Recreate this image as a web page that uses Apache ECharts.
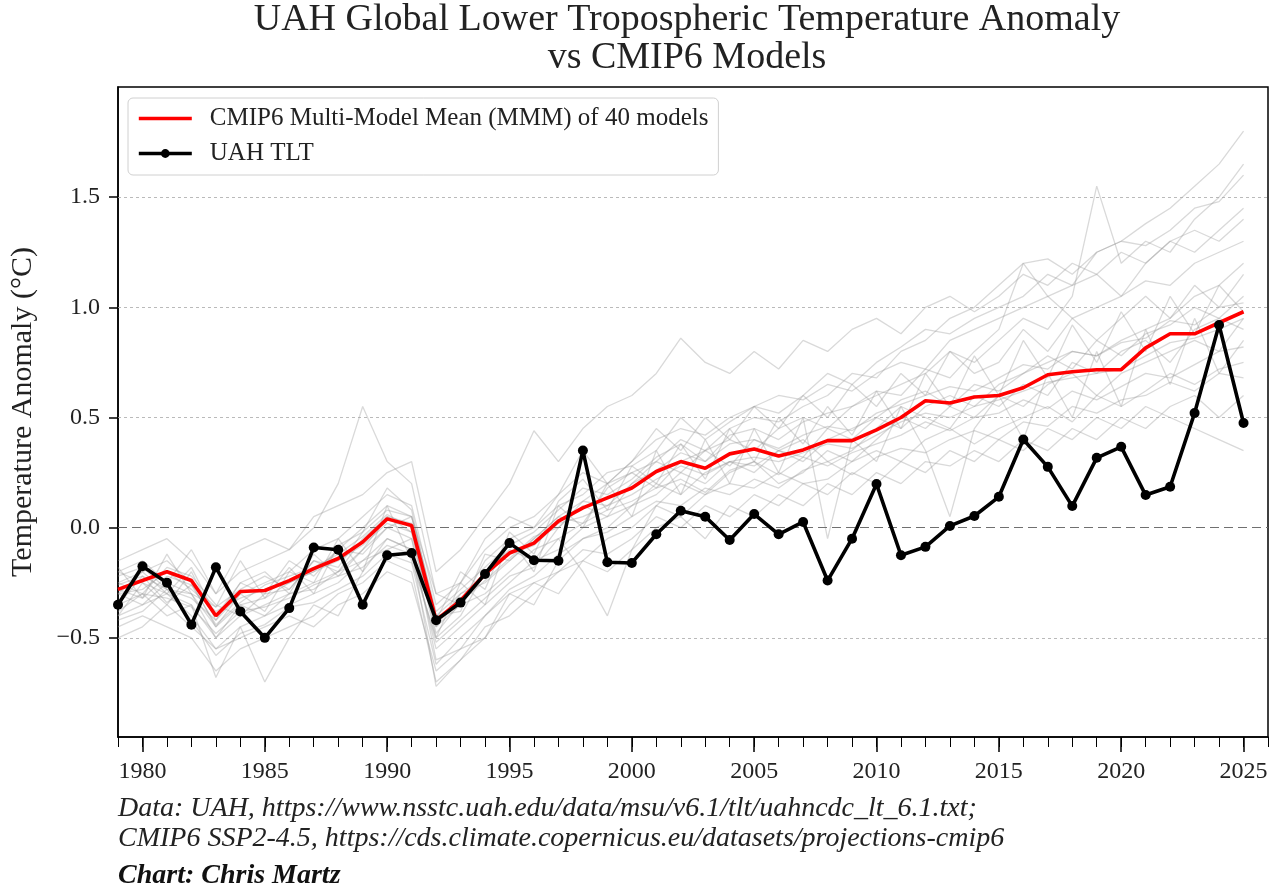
<!DOCTYPE html>
<html><head><meta charset="utf-8">
<script src="https://cdn.jsdelivr.net/npm/echarts@6/dist/echarts.min.js"></script>
<style>html,body{margin:0;padding:0;background:#fff}#c{width:1278px;height:895px}</style>
</head><body><div id="c"></div>
<script>
const years = [1979,1980,1981,1982,1983,1984,1985,1986,1987,1988,1989,1990,1991,1992,1993,1994,1995,1996,1997,1998,1999,2000,2001,2002,2003,2004,2005,2006,2007,2008,2009,2010,2011,2012,2013,2014,2015,2016,2017,2018,2019,2020,2021,2022,2023,2024,2025];
const mmm = [-0.28,-0.24,-0.20,-0.24,-0.40,-0.29, -0.285,-0.24,-0.186,-0.14,-0.065, 0.04,0.01,-0.42,-0.33,-0.21, -0.115,-0.07,0.03,0.09,0.135, 0.18,0.255,0.30,0.27,0.335, 0.357,0.325,0.353,0.395,0.395, 0.444,0.50,0.576,0.566,0.593, 0.60,0.635,0.694,0.708,0.717, 0.717,0.816,0.88,0.88,0.93,0.98];
const uah = [-0.35,-0.175,-0.25,-0.44,-0.18,-0.38, -0.50,-0.365,-0.09,-0.10,-0.35, -0.125,-0.115,-0.42,-0.34,-0.21, -0.07,-0.148,-0.15,0.35,-0.157, -0.16,-0.03,0.077,0.05,-0.056, 0.062,-0.03,0.026,-0.24,-0.05, 0.198,-0.125,-0.087,0.008,0.053, 0.14,0.40,0.276,0.098,0.317, 0.367,0.148,0.186,0.52,0.92,0.475];
const model01 = [-0.30,-0.20,-0.15,-0.25,-0.45,-0.30, -0.25,-0.20,-0.10,-0.05,0.05, 0.15,0.10,-0.35,-0.25,-0.10, 0.00,0.05,0.15,0.25,0.20, 0.30,0.40,0.45,0.42,0.50, 0.55,0.52,0.60,0.70,0.65, 0.75,0.82,0.90,0.88,0.95, 1.00,1.05,1.15,1.10,1.25, 1.30,1.38,1.45,1.55,1.65,1.80];
const model02 = [-0.25,-0.30,-0.18,-0.22,-0.35,-0.40, -0.30,-0.28,-0.15,-0.20,-0.05, 0.05,-0.02,-0.50,-0.40,-0.20, -0.10,-0.15,0.00,0.10,0.05, 0.20,0.30,0.25,0.35,0.40, 0.35,0.45,0.50,0.45,0.55, 0.60,0.65,0.70,0.80,0.75, 0.85,0.95,0.90,1.05,1.55, 1.20,1.30,1.25,1.40,1.50,1.65];
const model03 = [-0.35,-0.22,-0.28,-0.30,-0.50,-0.35, -0.32,-0.25,-0.20,-0.10,-0.12, 0.00,0.05,-0.40,-0.30,-0.25, -0.15,-0.05,0.05,0.12,0.20, 0.25,0.30,0.40,0.35,0.45, 0.50,0.48,0.55,0.60,0.70, 0.68,0.80,0.85,0.95,1.00, 1.10,1.20,1.22,1.15,1.25, 1.30,1.28,1.35,1.45,1.48,1.60];
const model04 = [-0.20,-0.25,-0.30,-0.18,-0.40,-0.25, -0.30,-0.15,-0.22,-0.10,0.00, 0.10,0.05,-0.30,-0.35,-0.15, -0.05,0.00,0.10,0.15,0.25, 0.28,0.35,0.50,0.40,0.48, 0.55,0.60,0.58,0.65,0.62, 0.70,0.75,0.72,0.85,0.90, 0.95,1.00,1.05,1.10,1.15, 1.05,1.20,1.30,1.25,1.35,1.45];
const model05 = [-0.40,-0.35,-0.30,-0.40,-0.55,-0.45, -0.40,-0.35,-0.30,-0.25,-0.15, -0.05,-0.10,-0.55,-0.45,-0.35, -0.25,-0.15,-0.10,0.00,0.05, 0.10,0.20,0.15,0.25,0.30, 0.28,0.35,0.30,0.40,0.45, 0.50,0.45,0.55,0.60,0.55, 0.65,0.70,0.75,0.80,0.78, 0.85,0.90,0.95,1.05,1.10,1.20];
const model06 = [-0.45,-0.40,-0.45,-0.50,-0.65,-0.55, -0.50,-0.45,-0.40,-0.30,-0.25, -0.15,-0.20,-0.70,-0.60,-0.45, -0.40,-0.30,-0.20,-0.15,-0.05, 0.00,0.10,0.05,0.15,0.20, 0.18,0.25,0.20,0.22,0.30, 0.35,0.30,0.40,0.45,0.38, 0.45,0.50,0.55,0.48,0.60, 0.55,0.62,0.70,0.65,0.72,0.75];
const model07 = [-0.30,-0.35,-0.25,-0.30,-0.45,-0.35, -0.40,-0.30,-0.25,-0.20,-0.15, -0.10,-0.05,-0.60,-0.55,-0.40, -0.30,-0.25,-0.20,-0.10,-0.12, -0.05,0.05,0.00,0.10,0.05, 0.15,0.10,0.20,0.15,0.25, 0.20,0.30,0.25,0.35,0.30, 0.40,0.35,0.45,0.40,0.50, 0.45,0.55,0.50,0.45,0.40,0.35];
const model08 = [-0.20,-0.15,-0.25,-0.10,-0.30,-0.20, -0.15,-0.10,0.00,0.20,0.55, 0.30,0.20,-0.30,-0.25,-0.05, 0.05,0.00,0.15,0.35,0.20, 0.30,0.45,0.35,0.50,0.40, 0.55,0.45,0.60,0.50,0.65, 0.55,0.70,0.60,0.80,0.70, 0.75,0.90,0.80,0.95,0.85, 0.95,1.05,0.95,1.10,1.00,1.15];
const model09 = [-0.35,-0.30,-0.40,-0.35,-0.68,-0.45, -0.70,-0.50,-0.35,-0.40,-0.20, -0.05,-0.10,-0.72,-0.60,-0.50, -0.30,-0.35,-0.15,-0.05,0.00, 0.10,0.15,0.25,0.20,0.30, 0.25,0.35,0.40,0.30,0.35, 0.45,0.55,0.50,0.45,0.60, 0.55,0.65,0.60,0.75,0.70, 0.80,0.85,0.75,0.90,0.95,0.90];
const model10 = [-0.25,-0.20,-0.30,-0.35,-0.50,-0.40, -0.35,-0.30,-0.28,-0.20,-0.10, 0.00,-0.05,-0.45,-0.35,-0.30, -0.20,-0.10,-0.05,-0.20,-0.40, -0.10,0.10,0.20,0.15,0.25, 0.30,0.20,0.25,0.35,0.30, 0.40,0.50,0.45,0.55,0.50, 0.60,0.55,0.65,0.70,0.60, 0.70,0.75,0.80,0.85,0.80,0.95];
const model11 = [-0.15,-0.10,-0.05,-0.15,-0.30,-0.10, -0.05,-0.10,0.05,0.10,0.15, 0.25,0.30,-0.20,-0.10,0.05, 0.20,0.44,0.30,0.45,0.55, 0.60,0.70,0.86,0.75,0.70, 0.80,0.72,0.85,0.80,0.90, 0.95,0.88,1.00,1.05,0.98, 1.05,1.15,1.10,1.20,1.15, 1.25,1.20,1.30,1.35,1.30,1.40];
const model12 = [-0.30,-0.28,-0.20,-0.28,-0.38,-0.32, -0.28,-0.25,-0.20,-0.15,-0.08, 0.02,-0.02,-0.45,-0.30,-0.22, -0.12,-0.08,0.02,0.05,0.10, 0.15,0.22,0.28,0.24,0.30, 0.32,0.30,0.34,0.38,0.36, 0.42,0.48,0.52,0.50,0.55, 0.58,0.62,0.66,0.68,0.70, 0.72,0.78,0.84,0.86,0.90,0.95];
const model13 = [-0.40,-0.25,-0.35,-0.20,-0.42,-0.30, -0.38,-0.20,-0.25,-0.05,-0.20, 0.10,-0.15,-0.50,-0.25,-0.35, -0.05,-0.20,0.10,0.00,0.20, 0.05,0.35,0.15,0.40,0.20, 0.45,0.25,0.50,-0.05,0.40, 0.30,0.55,0.35,0.05,0.45, 0.60,0.40,0.70,0.50,0.80, 0.55,0.90,0.65,0.95,0.70,0.85];
const model14 = [-0.50,-0.45,-0.35,-0.45,-0.55,-0.50, -0.45,-0.40,-0.45,-0.35,-0.30, -0.20,-0.25,-0.65,-0.55,-0.50, -0.35,-0.25,-0.30,-0.15,-0.20, -0.10,0.00,0.05,-0.05,0.10, 0.05,0.15,0.10,0.20,0.15, 0.25,0.20,0.30,0.28,0.35, 0.30,0.40,0.35,0.45,0.40, 0.50,0.45,0.55,0.60,0.50,0.60];
const model15 = [-0.28,-0.32,-0.22,-0.26,-0.36,-0.28, -0.22,-0.28,-0.15,-0.18,-0.02, 0.08,0.05,-0.38,-0.28,-0.18, -0.08,-0.02,0.08,0.18,0.15, 0.22,0.32,0.38,0.30,0.42, 0.45,0.40,0.48,0.52,0.55, 0.62,0.60,0.72,0.68,0.80, 0.90,1.20,1.05,0.95,1.00, 1.05,1.12,1.10,1.20,1.25,1.30];
const model16 = [-0.22,-0.18,-0.28,-0.32,-0.42,-0.25, -0.20,-0.30,-0.12,-0.22,-0.10, 0.05,0.02,-0.40,-0.38,-0.12, -0.15,-0.05,0.05,0.02,0.18, 0.25,0.18,0.30,0.35,0.28, 0.40,0.35,0.32,0.45,0.40, 0.50,0.58,0.62,0.55,0.65, 0.62,0.70,0.78,0.72,0.85, 0.78,0.88,0.92,1.00,0.95,1.05];
const model17 = [-0.38,-0.30,-0.32,-0.36,-0.48,-0.38, -0.36,-0.32,-0.26,-0.22,-0.18, -0.08,-0.12,-0.52,-0.42,-0.32, -0.22,-0.18,-0.05,0.02,0.08, 0.12,0.18,0.22,0.16,0.26, 0.30,0.24,0.32,0.28,0.34, 0.38,0.42,0.48,0.44,0.50, 0.52,0.58,0.54,0.62,0.58, 0.64,0.70,0.68,0.74,0.80,0.82];
const model18 = [-0.18,-0.32,-0.12,-0.30,-0.36,-0.15, -0.32,-0.18,-0.30,-0.08,-0.02, 0.18,0.08,-0.42,-0.20,-0.28, -0.02,-0.12,0.12,0.22,0.08, 0.28,0.20,0.38,0.22,0.45, 0.30,0.50,0.38,0.55,0.42, 0.62,0.45,0.70,0.55,0.78, 0.60,0.85,0.68,0.92,0.75, 0.98,0.80,1.05,0.88,1.10,0.98];
const model19 = [-0.42,-0.38,-0.28,-0.42,-0.58,-0.48, -0.44,-0.36,-0.34,-0.28,-0.22, -0.12,-0.16,-0.62,-0.50,-0.40, -0.28,-0.22,-0.12,-0.05,-0.02, 0.05,0.12,0.10,0.18,0.15, 0.22,0.18,0.26,0.30,0.24, 0.32,0.36,0.34,0.40,0.44, 0.40,0.48,0.46,0.55,0.52, 0.58,0.60,0.66,0.62,0.70,0.68];
const model20 = [-0.26,-0.22,-0.34,-0.26,-0.44,-0.34, -0.26,-0.22,-0.18,-0.12,-0.04, 0.06,0.00,-0.48,-0.34,-0.24, -0.14,-0.04,0.00,0.12,0.10, 0.20,0.26,0.34,0.30,0.38, 0.40,0.36,0.42,0.46,0.44, 0.52,0.56,0.60,0.64,0.62, 0.68,0.74,0.72,0.80,0.78, 0.84,0.86,0.94,0.92,1.00,1.02];
const models = [model01,model02,model03,model04,model05,model06,model07,model08,model09,model10,model11,model12,model13,model14,model15,model16,model17,model18,model19,model20];
const yTickValues = [-0.5,0.0,0.5,1.0,1.5];
const xMajorTicks = [1980,1985,1990,1995,2000,2005,2010,2015,2020,2025];
const xMinorTicks = [1979,1980,1981,1982,1983,1984,1985,1986,1987,1988,1989,1990,1991,1992,1993,1994,1995,1996,1997,1998,1999,2000,2001,2002,2003,2004,2005,2006,2007,2008,2009,2010,2011,2012,2013,2014,2015,2016,2017,2018,2019,2020,2021,2022,2023,2024,2025,2026];
const gridLines = [-0.5,0.5,1.0,1.5];
const zeroLine = [0.0];
const mmmName = 'CMIP6 Multi-Model Mean (MMM) of 40 models';
const uahName = 'UAH TLT';
const titleLines = ['UAH Global Lower Tropospheric Temperature Anomaly','vs CMIP6 Models'];
const footer1 = 'Data: UAH, https://www.nsstc.uah.edu/data/msu/v6.1/tlt/uahncdc_lt_6.1.txt;';
const footer2 = 'CMIP6 SSP2-4.5, https://cds.climate.copernicus.eu/datasets/projections-cmip6';
const footer3 = 'Chart: Chris Martz';

const FF = "'Liberation Serif', 'DejaVu Serif', serif";
const pairs = arr => years.map((y,i)=>[y, arr[i]]);

const series = [];
series.push({
  type:'line', name:'gridlines', data:[], silent:true, z:1,
  markLine:{ silent:true, symbol:['none','none'], label:{show:false},
    data: gridLines.map(v=>({yAxis:v, lineStyle:{type:[3,3], color:'#a8a8a8', width:0.8}}))
      .concat(zeroLine.map(v=>({yAxis:v, lineStyle:{type:[9,5], color:'#707070', width:1.1}}))) }
});
models.forEach((m,i)=>{
  series.push({type:'line', name:'model'+(i+1), data:pairs(m), symbol:'none', silent:true, z:2,
    lineStyle:{color:'rgba(150,150,150,0.36)', width:1.3}});
});
series.push({type:'line', name:mmmName, data:pairs(mmm), symbol:'none', z:5,
  lineStyle:{color:'#ff0000', width:3.6}, itemStyle:{color:'#ff0000'}});
series.push({type:'line', name:uahName, data:pairs(uah), symbol:'circle', symbolSize:10, z:6,
  lineStyle:{color:'#000', width:3.6}, itemStyle:{color:'#000'}});

const chart = echarts.init(document.getElementById('c'), null, {renderer:'canvas'});
chart.setOption({
  animation:false,
  backgroundColor:'#fff',
  grid:{left:115, right:10, top:87, bottom:158, show:true, borderColor:'#000', borderWidth:1.5, backgroundColor:'transparent'},
  legend:{
    data:[{name:mmmName, itemStyle:{opacity:0}}, {name:uahName}], orient:'vertical', left:128, top:98,
    itemWidth:53, itemHeight:11, itemGap:10,
    padding:[8,10,9,9],
    lineStyle:{width:3.6},
    borderColor:'#d0d0d0', borderWidth:1, borderRadius:5, backgroundColor:'rgba(255,255,255,0.85)',
    textStyle:{fontFamily:FF, fontSize:25, color:'#222', padding:[0,0,0,13]},
    selectedMode:false
  },
  xAxis:[{
    type:'value', min:1979, max:2026, position:'bottom',
    axisLine:{show:true, onZero:false, lineStyle:{color:'#000', width:1.5}},
    axisTick:{show:true, customValues:xMajorTicks, length:15, lineStyle:{color:'#000', width:1.5}},
    axisLabel:{customValues:xMajorTicks, formatter:v=>String(v), fontFamily:FF, fontSize:24, color:'#222', margin:23},
    splitLine:{show:false}
  },{
    type:'value', min:1979, max:2026, position:'bottom',
    axisLine:{show:false, onZero:false},
    axisTick:{show:true, customValues:xMinorTicks, length:10, lineStyle:{color:'#000', width:1}},
    axisLabel:{show:false},
    splitLine:{show:false}
  }],
  yAxis:{
    type:'value', min:-0.95, max:2.0,
    name:'Temperature Anomaly (°C)', nameLocation:'middle', nameGap:80, nameRotate:90,
    nameTextStyle:{fontFamily:FF, fontSize:30, color:'#222'},
    axisLine:{show:true, onZero:false, lineStyle:{color:'#000', width:1.5}},
    axisTick:{show:true, customValues:yTickValues, length:9, lineStyle:{color:'#000', width:1.5}},
    axisLabel:{customValues:yTickValues, formatter:v=>Number(v).toFixed(1).replace('-','\u2212'), fontFamily:FF, fontSize:24, color:'#222', margin:18},
    splitLine:{show:false}
  },
  graphic:[
    {type:'text', x:687, y:20, style:{text:titleLines[0], font:"38px "+FF, fill:'#222', textAlign:'center', textVerticalAlign:'middle'}},
    {type:'text', x:687, y:58, style:{text:titleLines[1], font:"38px "+FF, fill:'#222', textAlign:'center', textVerticalAlign:'middle'}},
    {type:'text', x:118, y:809, style:{text:footer1, font:"italic 28px "+FF, fill:'#222', textAlign:'left', textVerticalAlign:'middle'}},
    {type:'text', x:118, y:839, style:{text:footer2, font:"italic 28px "+FF, fill:'#222', textAlign:'left', textVerticalAlign:'middle'}},
    {type:'text', x:118, y:876, style:{text:footer3, font:"italic bold 28px "+FF, fill:'#111', textAlign:'left', textVerticalAlign:'middle'}}
  ],
  series:series
});
</script>
</body></html>
